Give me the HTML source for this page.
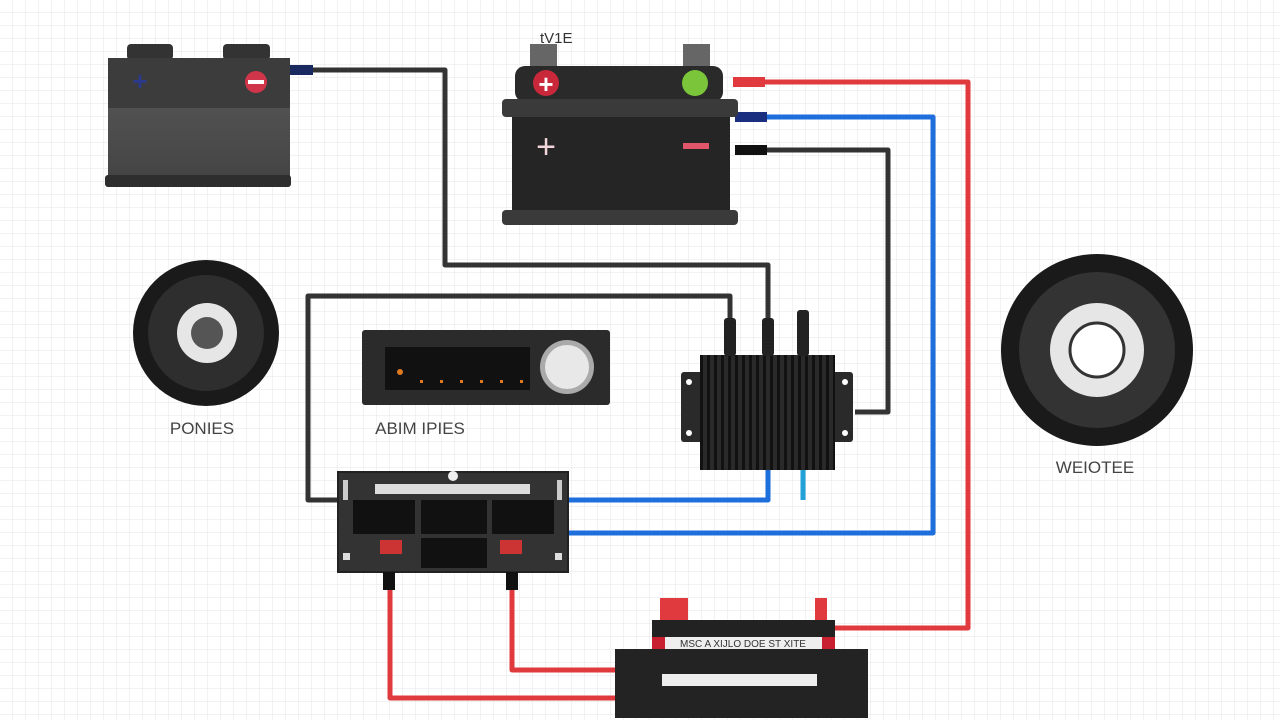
<!DOCTYPE html>
<html><head><style>
html,body{margin:0;padding:0;background:#fff;}
svg{display:block;font-family:"Liberation Sans",sans-serif;}
</style></head><body>
<svg width="1280" height="720" viewBox="0 0 1280 720" xmlns="http://www.w3.org/2000/svg">
<defs>
<pattern id="g" width="13" height="13" patternUnits="userSpaceOnUse">
<path d="M13 0V13H0" fill="none" stroke="#e6e6e6" stroke-width="1"/>
</pattern>
<pattern id="fins" width="7" height="10" patternUnits="userSpaceOnUse">
<rect width="7" height="10" fill="#2a2a2a"/><rect x="0" width="3" height="10" fill="#111"/>
</pattern>
<linearGradient id="bg1" x1="0" y1="0" x2="0" y2="1"><stop offset="0" stop-color="#5a5a5a"/><stop offset="1" stop-color="#444"/></linearGradient>
</defs>
<rect width="1280" height="720" fill="#fff"/>
<rect width="1280" height="720" fill="url(#g)"/>

<!-- wires -->
<g fill="none" stroke-width="5" stroke-linejoin="round">
<path d="M290 70H445V265H768V320" stroke="#333"/>
<path d="M735 82H968V628H835" stroke="#e03a3e"/>
<path d="M740 117H933V533H568" stroke="#1e6fdc"/>
<path d="M740 150H888V412H855" stroke="#333"/>
<path d="M730 318V296H308V500H338" stroke="#333"/>
<path d="M568 500H768V470" stroke="#1e6fdc"/>
<path d="M803 470V500" stroke="#22a0d8"/>
<path d="M390 572V698H615" stroke="#e03a3e"/>
<path d="M512 572V670H615" stroke="#e03a3e"/>
</g>
<rect x="733" y="77" width="32" height="10" fill="#e03a3e"/>
<rect x="735" y="112" width="32" height="10" fill="#1a2f80"/>
<rect x="735" y="145" width="32" height="10" fill="#111"/>
<rect x="285" y="65" width="28" height="10" fill="#1a2a60"/>

<!-- battery 1 -->
<rect x="127" y="44" width="46" height="16" rx="4" fill="#333"/>
<rect x="223" y="44" width="47" height="16" rx="4" fill="#333"/>
<rect x="108" y="58" width="182" height="122" rx="4" fill="url(#bg1)"/>
<rect x="108" y="58" width="182" height="50" fill="#3c3c3c"/>
<rect x="105" y="175" width="186" height="12" rx="3" fill="#2e2e2e"/>
<text x="140" y="90" font-size="26" font-weight="bold" fill="#2b3a8a" text-anchor="middle">+</text>
<circle cx="256" cy="82" r="11" fill="#d0354a"/><rect x="248" y="80" width="16" height="4" fill="#fff"/>

<!-- battery 2 -->
<text x="540" y="43" font-size="15" fill="#333">tV1E</text>
<rect x="530" y="44" width="27" height="24" fill="#666"/>
<rect x="683" y="44" width="27" height="24" fill="#666"/>
<rect x="515" y="66" width="208" height="36" rx="10" fill="#2a2a2a"/>
<rect x="502" y="99" width="236" height="18" rx="4" fill="#3a3a3a"/>
<rect x="512" y="117" width="218" height="96" fill="#252525"/>
<rect x="502" y="210" width="236" height="15" rx="4" fill="#3a3a3a"/>
<circle cx="546" cy="83" r="13" fill="#c8283a"/>
<text x="546" y="93" font-size="26" fill="#fff" text-anchor="middle" font-weight="bold">+</text>
<circle cx="695" cy="83" r="13" fill="#7ac53a"/>
<text x="546" y="158" font-size="34" fill="#f3d6da" text-anchor="middle">+</text>
<rect x="683" y="143" width="26" height="6" fill="#e0556a"/>

<!-- left speaker -->
<circle cx="206" cy="333" r="73" fill="#1a1a1a"/>
<circle cx="206" cy="333" r="58" fill="#2e2e2e"/>
<circle cx="207" cy="333" r="30" fill="#e6e6e6"/>
<circle cx="207" cy="333" r="16" fill="#555"/>
<text x="202" y="434" font-size="17" fill="#444" text-anchor="middle">PONIES</text>

<!-- right speaker -->
<circle cx="1097" cy="350" r="96" fill="#1a1a1a"/>
<circle cx="1097" cy="350" r="78" fill="#333"/>
<circle cx="1097" cy="350" r="47" fill="#e6e6e6"/>
<circle cx="1097" cy="350" r="27" fill="#fff" stroke="#333" stroke-width="3"/>
<text x="1095" y="473" font-size="17" fill="#444" text-anchor="middle">WEIOTEE</text>

<!-- head unit -->
<rect x="362" y="330" width="248" height="75" rx="3" fill="#2b2b2b"/>
<rect x="385" y="347" width="145" height="43" fill="#111"/>
<circle cx="400" cy="372" r="3" fill="#e07a20"/>
<g fill="#e07a20"><rect x="420" y="380" width="3" height="3"/><rect x="440" y="380" width="3" height="3"/><rect x="460" y="380" width="3" height="3"/><rect x="480" y="380" width="3" height="3"/><rect x="500" y="380" width="3" height="3"/><rect x="520" y="380" width="3" height="3"/></g>
<circle cx="567" cy="367" r="27" fill="#aaa"/><circle cx="567" cy="367" r="22" fill="#e8e8e8"/>
<text x="420" y="434" font-size="17" fill="#444" text-anchor="middle">ABIM IPIES</text>

<!-- amp -->
<rect x="681" y="372" width="172" height="70" rx="3" fill="#2a2a2a"/>
<circle cx="689" cy="382" r="3" fill="#fff"/><circle cx="689" cy="433" r="3" fill="#fff"/>
<circle cx="845" cy="382" r="3" fill="#fff"/><circle cx="845" cy="433" r="3" fill="#fff"/>
<rect x="700" y="355" width="135" height="115" fill="url(#fins)"/>
<rect x="724" y="318" width="12" height="38" rx="3" fill="#222"/>
<rect x="762" y="318" width="12" height="38" rx="3" fill="#222"/>
<rect x="797" y="310" width="12" height="46" rx="3" fill="#222"/>

<!-- terminal block -->
<rect x="338" y="472" width="230" height="100" fill="#333" stroke="#222" stroke-width="2"/>
<circle cx="453" cy="476" r="5" fill="#eee"/>
<rect x="375" y="484" width="155" height="10" fill="#ddd"/>
<rect x="343" y="480" width="5" height="20" fill="#ccc"/><rect x="557" y="480" width="5" height="20" fill="#ccc"/>
<rect x="343" y="553" width="7" height="7" fill="#ddd"/><rect x="555" y="553" width="7" height="7" fill="#ddd"/>
<g fill="#111">
<rect x="353" y="500" width="62" height="34"/><rect x="421" y="500" width="66" height="34"/><rect x="492" y="500" width="62" height="34"/>
<rect x="421" y="538" width="66" height="30"/>
</g>
<rect x="380" y="540" width="22" height="14" fill="#c33"/><rect x="500" y="540" width="22" height="14" fill="#c33"/>
<rect x="383" y="572" width="12" height="18" fill="#111"/><rect x="506" y="572" width="12" height="18" fill="#111"/>

<!-- bottom block -->
<rect x="660" y="598" width="28" height="24" fill="#e03a3e"/>
<rect x="815" y="598" width="12" height="24" fill="#e03a3e"/>
<rect x="652" y="620" width="183" height="32" fill="#222"/>
<rect x="665" y="637" width="157" height="12" fill="#eee"/>
<rect x="652" y="637" width="13" height="12" fill="#c82030"/><rect x="822" y="637" width="13" height="12" fill="#c82030"/>
<text x="743" y="647" font-size="10" fill="#333" text-anchor="middle">MSC A XIJLO DOE ST XITE</text>
<rect x="615" y="649" width="253" height="69" fill="#232323"/>
<rect x="662" y="674" width="155" height="12" fill="#eee"/>
</svg>
</body></html>
